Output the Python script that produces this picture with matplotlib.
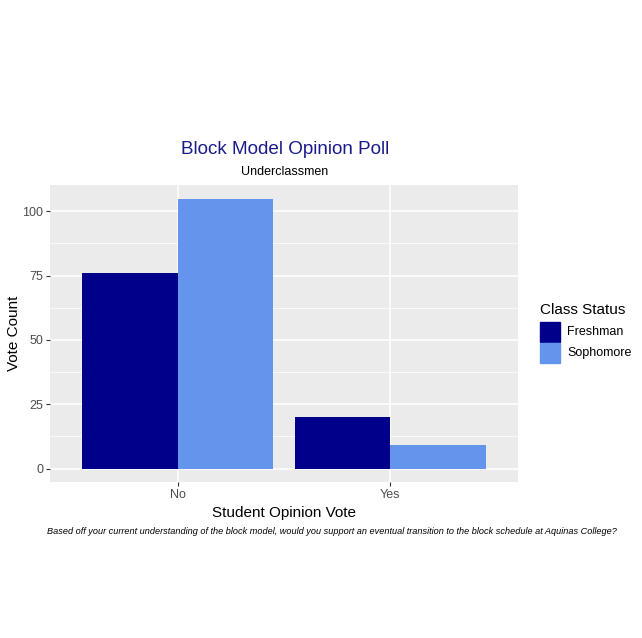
import numpy as np
import matplotlib.pyplot as plt
from matplotlib.patches import Rectangle

plt.rcParams['font.family'] = ['Liberation Sans', 'DejaVu Sans']

# data
votes = ['No', 'Yes']
freshman = [76, 20]
sophomore = [105, 9]
class_status = ['Freshman', 'Sophomore']

# colours
col_fresh = '#00008B'
col_soph = '#6495ED'
col_panel = '#EBEBEB'
col_title = '#1A1A8C'

W, H = 642, 638
fig = plt.figure(figsize=(W / 100, H / 100), dpi=100)
fig.patch.set_facecolor('white')

# panel in pixel coords
px0, px1, py_top, py_bot = 50, 518, 185, 482
ax = fig.add_axes([px0 / W, 1 - py_bot / H, (px1 - px0) / W, (py_bot - py_top) / H])
ax.set_facecolor(col_panel)
for s in ax.spines.values():
    s.set_visible(False)

x = np.arange(1, len(votes) + 1)
w = 0.45
ax.bar(x - w / 2, freshman, width=w, color=col_fresh, zorder=3)
ax.bar(x + w / 2, sophomore, width=w, color=col_soph, zorder=3)

ax.set_xlim(0.4, 2.6)
ax.set_ylim(-5.25, 110.25)
ax.set_xticks(x)
ax.set_xticklabels(votes)
ax.set_yticks([0, 25, 50, 75, 100])
ax.set_yticks([12.5, 37.5, 62.5, 87.5], minor=True)
ax.grid(True, which='major', color='white', linewidth=1.1, zorder=0)
ax.grid(True, which='minor', axis='y', color='white', linewidth=0.55, zorder=0)
ax.tick_params(which='major', length=3, color='#333333', labelcolor='#4D4D4D',
               labelsize=9, width=0.8, pad=2)
ax.tick_params(which='minor', length=0)

ax.set_xlabel('Student Opinion Vote', fontsize=11, color='black', labelpad=4)
ax.set_ylabel('Vote Count', fontsize=11, color='black', labelpad=1)

# titles
fig.text(285 / W, 1 - 150 / H, 'Block Model Opinion Poll', ha='center', va='center',
         fontsize=13.6, color=col_title)
fig.text(285 / W, 1 - 172 / H, 'Underclassmen', ha='center', va='center',
         fontsize=9, color='black')
fig.text(617 / W, 1 - 531 / H,
         'Based off your current understanding of the block model, would you support '
         'an eventual transition to the block schedule at Aquinas College?',
         ha='right', va='center', fontsize=6.6, style='italic', color='black')

# legend
fig.text(540 / W, 1 - 310 / H, 'Class Status', ha='left', va='center', fontsize=11)
for i, (lab, c) in enumerate(zip(class_status, [col_fresh, col_soph])):
    y0 = 322 + i * 21
    fig.patches.append(Rectangle((540 / W, 1 - (y0 + 20) / H), 20 / W, 20 / H,
                                 transform=fig.transFigure, color=c))
    fig.text(567 / W, 1 - (y0 + 10) / H, lab, ha='left', va='center', fontsize=9)

fig.savefig('out.png', dpi=100, facecolor='white')
